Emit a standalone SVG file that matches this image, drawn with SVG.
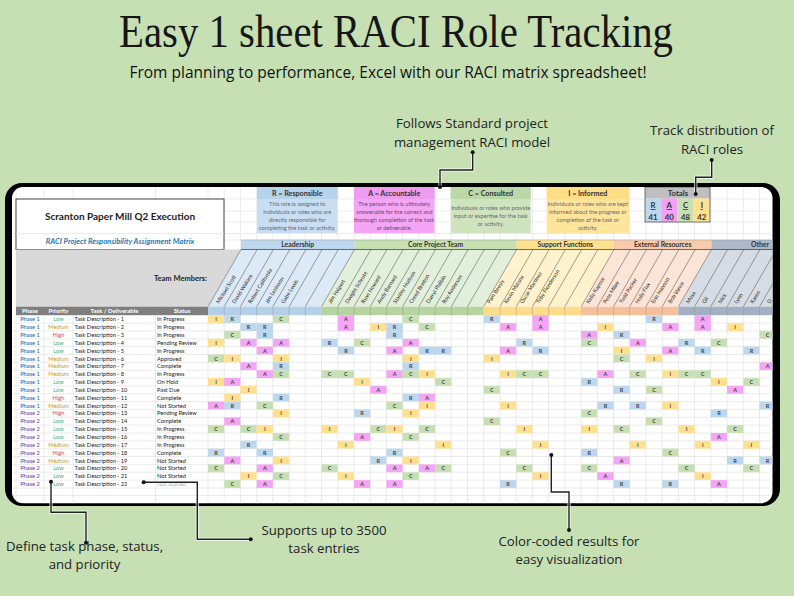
<svg xmlns="http://www.w3.org/2000/svg" width="794" height="596" viewBox="0 0 794 596">
<style>
.ttl{font-family:"Liberation Serif",serif;font-size:46px;fill:#161616;text-anchor:middle}
.sub{font-family:"Open Sans",sans-serif;font-size:15.5px;fill:#111;text-anchor:middle}
.note{font-family:"Open Sans",sans-serif;font-size:13.2px;fill:#222;text-anchor:middle}
.t{font-family:Lato,"Liberation Sans",sans-serif;font-size:5.7px;fill:#222}
.ph1{fill:#2e75b6;text-anchor:middle;font-weight:600}.ph2{fill:#7a4fb0;text-anchor:middle;font-weight:600}
.lo{fill:#3fae6b;text-anchor:middle}.me{fill:#c39a35;text-anchor:middle}.hi{fill:#e8403a;text-anchor:middle}
.hd{fill:#fff;font-weight:700;text-anchor:middle;font-size:6px}
.c{width:16.22px;height:7.85px}
.R{fill:#bdd7ee}.A{fill:#f4a6f4}.C{fill:#c6e0b4}.I{fill:#ffe08f}
.k{font-family:Lato,"Liberation Sans",sans-serif;font-size:5.4px;font-weight:700;fill:#444;text-anchor:middle}
.g{font-family:Lato,"Liberation Sans",sans-serif;font-size:6.8px;font-weight:700;fill:#333;text-anchor:middle}
.b{font-family:Lato,"Liberation Sans",sans-serif;font-size:5.7px;fill:#5f6b73;text-anchor:middle}
.rh{font-family:Lato,"Liberation Sans",sans-serif;font-size:7.2px;font-weight:700;fill:#333;text-anchor:middle}
.tt{font-family:Lato,"Liberation Sans",sans-serif;font-size:7.8px;font-weight:700;fill:#333;text-anchor:middle}
.n{font-family:Lato,"Liberation Sans",sans-serif;font-size:5.4px;fill:#222}
.halo{fill:none;stroke:#fff;stroke-opacity:.65;stroke-width:3.4}
.ln{fill:none;stroke:#222;stroke-width:1.4}
.dot{fill:#111;r:2px}
</style>
<defs><clipPath id="scr"><rect x="12" y="187" width="760.5" height="316.3" rx="11"/></clipPath></defs>
<rect width="794" height="596" fill="#c6e0b4"/>
<text class="ttl" x="396" y="47" textLength="554" lengthAdjust="spacingAndGlyphs">Easy 1 sheet RACI Role Tracking</text>
<text class="sub" x="388" y="78">From planning to performance, Excel with our RACI matrix spreadsheet!</text>
<g id="notes">
<text class="note" x="472" y="128">Follows Standard project</text>
<text class="note" x="472" y="147">management RACI model</text>
<text class="note" x="712" y="135">Track distribution of</text>
<text class="note" x="712" y="154">RACI roles</text>
<text class="note" x="84.5" y="551">Define task phase, status,</text>
<text class="note" x="84.5" y="569">and priority</text>
<text class="note" x="324" y="535">Supports up to 3500</text>
<text class="note" x="324" y="553">task entries</text>
<text class="note" x="569" y="546">Color-coded results for</text>
<text class="note" x="569" y="564">easy visualization</text>
</g>
<rect id="frame" x="5" y="183" width="775" height="323" rx="17" fill="#000"/>
<g id="sheet" clip-path="url(#scr)">
<rect x="12" y="187" width="761" height="317" fill="#fff"/>
<path id="grid" fill="none" stroke="#e3e3e3" stroke-width=".7" d="M16 187V504M44 187V504M73 187V504M155.5 187V504M208 187V504M224.2 187V504M240.4 187V504M256.7 187V504M272.9 187V504M289.1 187V504M305.3 187V504M321.5 187V504M337.8 187V504M354 187V504M370.2 187V504M386.4 187V504M402.6 187V504M418.9 187V504M435.1 187V504M451.3 187V504M467.5 187V504M483.7 187V504M500 187V504M516.2 187V504M532.4 187V504M548.6 187V504M564.8 187V504M581.1 187V504M597.3 187V504M613.5 187V504M629.7 187V504M645.9 187V504M662.2 187V504M678.4 187V504M694.6 187V504M710.8 187V504M727 187V504M743.3 187V504M759.5 187V504M12 199H773M12 211H773M12 222H773M12 233.5H773M12 240H773M12 323.1H773M12 330.9H773M12 338.8H773M12 346.6H773M12 354.5H773M12 362.3H773M12 370.2H773M12 378H773M12 385.9H773M12 393.7H773M12 401.6H773M12 409.4H773M12 417.3H773M12 425.1H773M12 433H773M12 440.8H773M12 448.7H773M12 456.5H773M12 464.4H773M12 472.2H773M12 480.1H773M12 488H773M12 495.5H773"/>

<g id="role-r"><rect x="257" y="187" width="80.5" height="46" fill="#c9def2"/><rect x="257" y="187" width="80.5" height="12" fill="#b6d3ec"/>
<text class="rh" x="297.2" y="196">R = Responsible</text>
<text class="b" x="297.2" y="206">This role is assigned to</text><text class="b" x="297.2" y="214">individuals or roles who are</text><text class="b" x="297.2" y="222">directly responsible for</text><text class="b" x="297.2" y="230">completing the task or activity.</text></g>
<g id="role-a"><rect x="354" y="187" width="80.5" height="46" fill="#f4a6f4"/><rect x="354" y="187" width="80.5" height="12" fill="#ee9cf0"/>
<text class="rh" x="394.2" y="196">A = Accountable</text>
<text class="b" x="394.2" y="206" style="fill:#6a4a6e">The person who is ultimately</text><text class="b" x="394.2" y="214" style="fill:#6a4a6e">answerable for the correct and</text><text class="b" x="394.2" y="222" style="fill:#6a4a6e">thorough completion of the task</text><text class="b" x="394.2" y="230" style="fill:#6a4a6e">or deliverable.</text></g>
<g id="role-c"><rect x="450.7" y="187" width="80" height="46" fill="#cfe3bf"/><rect x="450.7" y="187" width="80" height="12" fill="#bcd8a8"/>
<text class="rh" x="490.7" y="196">C = Consulted</text>
<text class="b" x="490.7" y="210">Individuals or roles who provide</text><text class="b" x="490.7" y="218">input or expertise for the task</text><text class="b" x="490.7" y="226">or activity.</text></g>
<g id="role-i"><rect x="546.7" y="187" width="82.3" height="46" fill="#ffe49c"/><rect x="546.7" y="187" width="82.3" height="12" fill="#ffdc86"/>
<text class="rh" x="587.8" y="196">I = Informed</text>
<text class="b" x="587.8" y="206">Individuals or roles who are kept</text><text class="b" x="587.8" y="214">informed about the progress or</text><text class="b" x="587.8" y="222">completion of the task or</text><text class="b" x="587.8" y="230">activity.</text></g>
<g id="totals"><rect x="645" y="187" width="65" height="11.5" fill="#bfbfbf"/>
<rect x="645" y="198.5" width="16.2" height="23.5" fill="#bdd7ee"/><rect x="661.2" y="198.5" width="16.2" height="23.5" fill="#f4a0f4"/><rect x="677.4" y="198.5" width="16.2" height="23.5" fill="#c6e0b4"/><rect x="693.6" y="198.5" width="16.4" height="23.5" fill="#ffe08f"/>
<rect x="645" y="187" width="65" height="35" fill="none" stroke="#555" stroke-width=".8"/>
<text class="tt" x="678" y="196.2">Totals</text>
<text class="tt" x="653.1" y="208" text-decoration="underline">R</text><text class="tt" x="669.3" y="208" text-decoration="underline">A</text><text class="tt" x="685.5" y="208" text-decoration="underline">C</text><text class="tt" x="701.8" y="208" text-decoration="underline">I</text>
<text class="tt" x="653.1" y="219.5">41</text><text class="tt" x="669.3" y="219.5">40</text><text class="tt" x="685.5" y="219.5">48</text><text class="tt" x="701.8" y="219.5">42</text></g>

<g id="title-box"><rect x="16" y="199" width="208" height="50.5" fill="#fff" stroke="#333" stroke-width=".9"/>
<path d="M16 233.5H224" stroke="#e3e3e3" stroke-width=".7"/>
<text x="120" y="220" font-family="Lato,'Liberation Sans',sans-serif" font-size="10" font-weight="700" fill="#1c1c1c" text-anchor="middle">Scranton Paper Mill Q2 Execution</text>
<text x="120" y="244" font-family="Lato,'Liberation Sans',sans-serif" font-size="7.6" font-weight="700" font-style="italic" fill="#2e75b6" text-anchor="middle">RACI Project Responsibility Assignment Matrix</text></g>

<g id="team-header">
<path d="M16 249.5H241L208 306.7H16Z" fill="#d9d9d9"/>
<text x="207" y="280.5" font-family="Lato,'Liberation Sans',sans-serif" font-size="7.5" font-weight="700" fill="#222" text-anchor="end">Team Members:</text>
<path d="M208 306.7L241 249.5H354.5L321.5 306.7Z" fill="#dce9f6"/>
<path d="M321.5 306.7L354.5 249.5H516.7L483.7 306.7Z" fill="#e2efda"/>
<path d="M483.7 306.7L516.7 249.5H614L581.1 306.7Z" fill="#fff2cc"/>
<path d="M581.1 306.7L614 249.5H711.4L678.4 306.7Z" fill="#fce4d6"/>
<path d="M678.4 306.7L711.4 249.5H790L790 306.7Z" fill="#d6dce4"/>
<rect x="241" y="240" width="113.5" height="9.5" fill="#bdd7ee"/><rect x="354.5" y="240" width="162.2" height="9.5" fill="#c6e0b4"/><rect x="516.7" y="240" width="97.3" height="9.5" fill="#ffe08f"/><rect x="614" y="240" width="97.4" height="9.5" fill="#f8cbad"/><rect x="711.4" y="240" width="62" height="9.5" fill="#adb9ca"/>
<path d="M241 240H773" fill="none" stroke="#999" stroke-width=".5"/>
<path d="M241 249.5H773" fill="none" stroke="#333" stroke-width=".7"/>
<path d="M208 306.7l33-57.2M224.2 306.7l33-57.2M240.4 306.7l33-57.2M256.7 306.7l33-57.2M272.9 306.7l33-57.2M289.1 306.7l33-57.2M305.3 306.7l33-57.2M321.5 306.7l33-57.2M337.8 306.7l33-57.2M354 306.7l33-57.2M370.2 306.7l33-57.2M386.4 306.7l33-57.2M402.6 306.7l33-57.2M418.9 306.7l33-57.2M435.1 306.7l33-57.2M451.3 306.7l33-57.2M467.5 306.7l33-57.2M483.7 306.7l33-57.2M500 306.7l33-57.2M516.2 306.7l33-57.2M532.4 306.7l33-57.2M548.6 306.7l33-57.2M564.8 306.7l33-57.2M581.1 306.7l33-57.2M597.3 306.7l33-57.2M613.5 306.7l33-57.2M629.7 306.7l33-57.2M645.9 306.7l33-57.2M662.2 306.7l33-57.2M678.4 306.7l33-57.2M694.6 306.7l33-57.2M710.8 306.7l33-57.2M727 306.7l33-57.2M743.3 306.7l33-57.2M759.5 306.7l33-57.2" fill="none" stroke="#555" stroke-width=".55"/>
<text class="g" x="297.7" y="247.4">Leadership</text><text class="g" x="435.6" y="247.4">Core Project Team</text><text class="g" x="565.3" y="247.4">Support Functions</text><text class="g" x="662.7" y="247.4">External Resources</text><text class="g" x="760" y="247.4">Other</text>
<text class="n" transform="translate(219 304) rotate(-58)">Michael Scott</text>
<text class="n" transform="translate(235 304) rotate(-58)">David Wallace</text>
<text class="n" transform="translate(251 304) rotate(-58)">Robert California</text>
<text class="n" transform="translate(268 304) rotate(-58)">Jim Levinson</text>
<text class="n" transform="translate(284 304) rotate(-58)">Gabe Lewis</text>
<text class="n" transform="translate(331 304) rotate(-58)">Jim Halpert</text>
<text class="n" transform="translate(348 304) rotate(-58)">Dwight Schrute</text>
<text class="n" transform="translate(364 304) rotate(-58)">Ryan Howard</text>
<text class="n" transform="translate(380 304) rotate(-58)">Andy Barnard</text>
<text class="n" transform="translate(396 304) rotate(-58)">Stanley Hudson</text>
<text class="n" transform="translate(412 304) rotate(-58)">Creed Bratton</text>
<text class="n" transform="translate(429 304) rotate(-58)">Darryl Philbin</text>
<text class="n" transform="translate(445 304) rotate(-58)">Roy Anderson</text>
<text class="n" transform="translate(490 304) rotate(-58)">Pam Beesly</text>
<text class="n" transform="translate(507 304) rotate(-58)">Kevin Malone</text>
<text class="n" transform="translate(523 304) rotate(-58)">Oscar Martinez</text>
<text class="n" transform="translate(539 304) rotate(-58)">Toby Flenderson</text>
<text class="n" transform="translate(589 304) rotate(-58)">Kelly Kapoor</text>
<text class="n" transform="translate(606 304) rotate(-58)">Pete Miller</text>
<text class="n" transform="translate(622 304) rotate(-58)">Todd Packer</text>
<text class="n" transform="translate(638 304) rotate(-58)">Holly Flax</text>
<text class="n" transform="translate(654 304) rotate(-58)">Erin Hannon</text>
<text class="n" transform="translate(671 304) rotate(-58)">Bob Vance</text>
<text class="n" transform="translate(689 304) rotate(-58)">Mose</text>
<text class="n" transform="translate(705 304) rotate(-58)">Gil</text>
<text class="n" transform="translate(721 304) rotate(-58)">Nick</text>
<text class="n" transform="translate(737 304) rotate(-58)">Lynn</text>
<text class="n" transform="translate(753 304) rotate(-58)">Karen</text>
<text class="n" transform="translate(770 304) rotate(-58)">D</text>
</g>

<g id="column-header">
<rect x="16" y="306.7" width="192" height="8.5" fill="#7f7f7f"/>
<rect x="208" y="306.7" width="113.5" height="8.5" fill="#b4cfe8"/><rect x="321.5" y="306.7" width="162.2" height="8.5" fill="#b7d3a0"/><rect x="483.7" y="306.7" width="97.4" height="8.5" fill="#ffdc8a"/><rect x="581.1" y="306.7" width="97.3" height="8.5" fill="#f5c09c"/><rect x="678.4" y="306.7" width="95" height="8.5" fill="#a3afc2"/>
<path d="M224.2 306.7v8.5M240.4 306.7v8.5M256.7 306.7v8.5M272.9 306.7v8.5M289.1 306.7v8.5M305.3 306.7v8.5M337.8 306.7v8.5M354 306.7v8.5M370.2 306.7v8.5M386.4 306.7v8.5M402.6 306.7v8.5M418.9 306.7v8.5M435.1 306.7v8.5M451.3 306.7v8.5M467.5 306.7v8.5M500 306.7v8.5M516.2 306.7v8.5M532.4 306.7v8.5M548.6 306.7v8.5M564.8 306.7v8.5M597.3 306.7v8.5M613.5 306.7v8.5M629.7 306.7v8.5M645.9 306.7v8.5M662.2 306.7v8.5M694.6 306.7v8.5M710.8 306.7v8.5M727 306.7v8.5M743.3 306.7v8.5M759.5 306.7v8.5" fill="none" stroke="#999" stroke-width=".5"/>
<text class="t hd" x="30" y="313.2">Phase</text><text class="t hd" x="58.5" y="313.2">Priority</text><text class="t hd" x="114.5" y="313.2">Task / Deliverable</text><text class="t hd" x="182" y="313.2">Status</text>
</g>

<g id="rows">
<g transform="translate(0 315.2)"><text class="t ph1" x="30" y="6">Phase 1</text><text class="t lo" x="58.5" y="6">Low</text><text class="t" x="74.5" y="6">Task Description - 1</text><text class="t" x="157" y="6">In Progress</text>
<rect class="c I" x="208"/><text class="k" x="216.1" y="6">I</text><rect class="c R" x="224.2"/><text class="k" x="232.3" y="6">R</text><rect class="c C" x="272.9"/><text class="k" x="281" y="6">C</text><rect class="c A" x="337.8"/><text class="k" x="345.9" y="6">A</text><rect class="c C" x="402.6"/><text class="k" x="410.7" y="6">C</text><rect class="c R" x="483.7"/><text class="k" x="491.8" y="6">R</text><rect class="c A" x="532.4"/><text class="k" x="540.5" y="6">A</text><rect class="c R" x="645.9"/><text class="k" x="654" y="6">R</text><rect class="c A" x="694.6"/><text class="k" x="702.7" y="6">A</text></g>
<g transform="translate(0 323.1)"><text class="t ph1" x="30" y="6">Phase 1</text><text class="t me" x="58.5" y="6">Medium</text><text class="t" x="74.5" y="6">Task Description - 2</text><text class="t" x="157" y="6">In Progress</text>
<rect class="c R" x="240.4"/><text class="k" x="248.5" y="6">R</text><rect class="c R" x="256.7"/><text class="k" x="264.8" y="6">R</text><rect class="c A" x="337.8"/><text class="k" x="345.9" y="6">A</text><rect class="c I" x="370.2"/><text class="k" x="378.3" y="6">I</text><rect class="c R" x="386.4"/><text class="k" x="394.5" y="6">R</text><rect class="c C" x="418.9"/><text class="k" x="427" y="6">C</text><rect class="c A" x="500"/><text class="k" x="508.1" y="6">A</text><rect class="c A" x="532.4"/><text class="k" x="540.5" y="6">A</text><rect class="c I" x="597.3"/><text class="k" x="605.4" y="6">I</text><rect class="c A" x="662.2"/><text class="k" x="670.3" y="6">A</text><rect class="c A" x="694.6"/><text class="k" x="702.7" y="6">A</text><rect class="c I" x="727"/><text class="k" x="735.1" y="6">I</text></g>
<g transform="translate(0 330.9)"><text class="t ph1" x="30" y="6">Phase 1</text><text class="t hi" x="58.5" y="6">High</text><text class="t" x="74.5" y="6">Task Description - 3</text><text class="t" x="157" y="6">In Progress</text>
<rect class="c C" x="224.2"/><text class="k" x="232.3" y="6">C</text><rect class="c R" x="256.7"/><text class="k" x="264.8" y="6">R</text><rect class="c R" x="386.4"/><text class="k" x="394.5" y="6">R</text><rect class="c A" x="581.1"/><text class="k" x="589.2" y="6">A</text><rect class="c R" x="613.5"/><text class="k" x="621.6" y="6">R</text><rect class="c C" x="759.5"/><text class="k" x="767.6" y="6">C</text></g>
<g transform="translate(0 338.8)"><text class="t ph1" x="30" y="6">Phase 1</text><text class="t lo" x="58.5" y="6">Low</text><text class="t" x="74.5" y="6">Task Description - 4</text><text class="t" x="157" y="6">Pending Review</text>
<rect class="c I" x="208"/><text class="k" x="216.1" y="6">I</text><rect class="c A" x="240.4"/><text class="k" x="248.5" y="6">A</text><rect class="c A" x="272.9"/><text class="k" x="281" y="6">A</text><rect class="c R" x="321.5"/><text class="k" x="329.6" y="6">R</text><rect class="c C" x="354"/><text class="k" x="362.1" y="6">C</text><rect class="c A" x="402.6"/><text class="k" x="410.7" y="6">A</text><rect class="c R" x="516.2"/><text class="k" x="524.3" y="6">R</text><rect class="c C" x="581.1"/><text class="k" x="589.2" y="6">C</text><rect class="c A" x="629.7"/><text class="k" x="637.8" y="6">A</text><rect class="c R" x="678.4"/><text class="k" x="686.5" y="6">R</text><rect class="c C" x="710.8"/><text class="k" x="718.9" y="6">C</text></g>
<g transform="translate(0 346.6)"><text class="t ph1" x="30" y="6">Phase 1</text><text class="t lo" x="58.5" y="6">Low</text><text class="t" x="74.5" y="6">Task Description - 5</text><text class="t" x="157" y="6">In Progress</text>
<rect class="c A" x="256.7"/><text class="k" x="264.8" y="6">A</text><rect class="c R" x="337.8"/><text class="k" x="345.9" y="6">R</text><rect class="c A" x="386.4"/><text class="k" x="394.5" y="6">A</text><rect class="c R" x="418.9"/><text class="k" x="427" y="6">R</text><rect class="c R" x="435.1"/><text class="k" x="443.2" y="6">R</text><rect class="c A" x="500"/><text class="k" x="508.1" y="6">A</text><rect class="c R" x="532.4"/><text class="k" x="540.5" y="6">R</text><rect class="c I" x="613.5"/><text class="k" x="621.6" y="6">I</text><rect class="c A" x="662.2"/><text class="k" x="670.3" y="6">A</text><rect class="c R" x="694.6"/><text class="k" x="702.7" y="6">R</text><rect class="c R" x="743.3"/><text class="k" x="751.4" y="6">R</text></g>
<g transform="translate(0 354.5)"><text class="t ph1" x="30" y="6">Phase 1</text><text class="t me" x="58.5" y="6">Medium</text><text class="t" x="74.5" y="6">Task Description - 6</text><text class="t" x="157" y="6">Approved</text>
<rect class="c C" x="208"/><text class="k" x="216.1" y="6">C</text><rect class="c I" x="224.2"/><text class="k" x="232.3" y="6">I</text><rect class="c I" x="272.9"/><text class="k" x="281" y="6">I</text><rect class="c I" x="402.6"/><text class="k" x="410.7" y="6">I</text><rect class="c I" x="483.7"/><text class="k" x="491.8" y="6">I</text><rect class="c C" x="613.5"/><text class="k" x="621.6" y="6">C</text><rect class="c I" x="645.9"/><text class="k" x="654" y="6">I</text></g>
<g transform="translate(0 362.3)"><text class="t ph1" x="30" y="6">Phase 1</text><text class="t me" x="58.5" y="6">Medium</text><text class="t" x="74.5" y="6">Task Description - 7</text><text class="t" x="157" y="6">Complete</text>
<rect class="c A" x="240.4"/><text class="k" x="248.5" y="6">A</text><rect class="c R" x="272.9"/><text class="k" x="281" y="6">R</text><rect class="c R" x="402.6"/><text class="k" x="410.7" y="6">R</text><rect class="c A" x="759.5"/><text class="k" x="767.6" y="6">A</text></g>
<g transform="translate(0 370.2)"><text class="t ph1" x="30" y="6">Phase 1</text><text class="t me" x="58.5" y="6">Medium</text><text class="t" x="74.5" y="6">Task Description - 8</text><text class="t" x="157" y="6">In Progress</text>
<rect class="c A" x="256.7"/><text class="k" x="264.8" y="6">A</text><rect class="c C" x="272.9"/><text class="k" x="281" y="6">C</text><rect class="c C" x="321.5"/><text class="k" x="329.6" y="6">C</text><rect class="c C" x="337.8"/><text class="k" x="345.9" y="6">C</text><rect class="c A" x="386.4"/><text class="k" x="394.5" y="6">A</text><rect class="c C" x="402.6"/><text class="k" x="410.7" y="6">C</text><rect class="c I" x="418.9"/><text class="k" x="427" y="6">I</text><rect class="c I" x="500"/><text class="k" x="508.1" y="6">I</text><rect class="c C" x="516.2"/><text class="k" x="524.3" y="6">C</text><rect class="c C" x="532.4"/><text class="k" x="540.5" y="6">C</text><rect class="c A" x="597.3"/><text class="k" x="605.4" y="6">A</text><rect class="c C" x="629.7"/><text class="k" x="637.8" y="6">C</text><rect class="c I" x="662.2"/><text class="k" x="670.3" y="6">I</text><rect class="c C" x="678.4"/><text class="k" x="686.5" y="6">C</text><rect class="c C" x="694.6"/><text class="k" x="702.7" y="6">C</text></g>
<g transform="translate(0 378)"><text class="t ph1" x="30" y="6">Phase 1</text><text class="t lo" x="58.5" y="6">Low</text><text class="t" x="74.5" y="6">Task Description - 9</text><text class="t" x="157" y="6">On Hold</text>
<rect class="c I" x="208"/><text class="k" x="216.1" y="6">I</text><rect class="c A" x="224.2"/><text class="k" x="232.3" y="6">A</text><rect class="c I" x="354"/><text class="k" x="362.1" y="6">I</text><rect class="c C" x="435.1"/><text class="k" x="443.2" y="6">C</text><rect class="c R" x="581.1"/><text class="k" x="589.2" y="6">R</text><rect class="c I" x="710.8"/><text class="k" x="718.9" y="6">I</text><rect class="c C" x="743.3"/><text class="k" x="751.4" y="6">C</text></g>
<g transform="translate(0 385.9)"><text class="t ph1" x="30" y="6">Phase 1</text><text class="t lo" x="58.5" y="6">Low</text><text class="t" x="74.5" y="6">Task Description - 10</text><text class="t" x="157" y="6">Past Due</text>
<rect class="c I" x="240.4"/><text class="k" x="248.5" y="6">I</text><rect class="c A" x="370.2"/><text class="k" x="378.3" y="6">A</text><rect class="c C" x="483.7"/><text class="k" x="491.8" y="6">C</text><rect class="c R" x="613.5"/><text class="k" x="621.6" y="6">R</text><rect class="c C" x="645.9"/><text class="k" x="654" y="6">C</text><rect class="c A" x="727"/><text class="k" x="735.1" y="6">A</text></g>
<g transform="translate(0 393.7)"><text class="t ph1" x="30" y="6">Phase 1</text><text class="t hi" x="58.5" y="6">High</text><text class="t" x="74.5" y="6">Task Description - 11</text><text class="t" x="157" y="6">Complete</text>
<rect class="c I" x="224.2"/><text class="k" x="232.3" y="6">I</text><rect class="c R" x="272.9"/><text class="k" x="281" y="6">R</text><rect class="c R" x="402.6"/><text class="k" x="410.7" y="6">R</text><rect class="c A" x="418.9"/><text class="k" x="427" y="6">A</text></g>
<g transform="translate(0 401.6)"><text class="t ph1" x="30" y="6">Phase 1</text><text class="t me" x="58.5" y="6">Medium</text><text class="t" x="74.5" y="6">Task Description - 12</text><text class="t" x="157" y="6">Not Started</text>
<rect class="c A" x="208"/><text class="k" x="216.1" y="6">A</text><rect class="c R" x="224.2"/><text class="k" x="232.3" y="6">R</text><rect class="c C" x="256.7"/><text class="k" x="264.8" y="6">C</text><rect class="c C" x="386.4"/><text class="k" x="394.5" y="6">C</text><rect class="c I" x="418.9"/><text class="k" x="427" y="6">I</text><rect class="c I" x="500"/><text class="k" x="508.1" y="6">I</text><rect class="c R" x="597.3"/><text class="k" x="605.4" y="6">R</text><rect class="c R" x="629.7"/><text class="k" x="637.8" y="6">R</text><rect class="c I" x="662.2"/><text class="k" x="670.3" y="6">I</text><rect class="c R" x="759.5"/><text class="k" x="767.6" y="6">R</text></g>
<g transform="translate(0 409.4)"><text class="t ph2" x="30" y="6">Phase 2</text><text class="t hi" x="58.5" y="6">High</text><text class="t" x="74.5" y="6">Task Description - 13</text><text class="t" x="157" y="6">Pending Review</text>
<rect class="c I" x="272.9"/><text class="k" x="281" y="6">I</text><rect class="c R" x="354"/><text class="k" x="362.1" y="6">R</text><rect class="c I" x="402.6"/><text class="k" x="410.7" y="6">I</text><rect class="c C" x="581.1"/><text class="k" x="589.2" y="6">C</text><rect class="c R" x="710.8"/><text class="k" x="718.9" y="6">R</text></g>
<g transform="translate(0 417.3)"><text class="t ph2" x="30" y="6">Phase 2</text><text class="t lo" x="58.5" y="6">Low</text><text class="t" x="74.5" y="6">Task Description - 14</text><text class="t" x="157" y="6">Complete</text>
<rect class="c A" x="224.2"/><text class="k" x="232.3" y="6">A</text><rect class="c C" x="483.7"/><text class="k" x="491.8" y="6">C</text><rect class="c C" x="645.9"/><text class="k" x="654" y="6">C</text></g>
<g transform="translate(0 425.1)"><text class="t ph2" x="30" y="6">Phase 2</text><text class="t lo" x="58.5" y="6">Low</text><text class="t" x="74.5" y="6">Task Description - 15</text><text class="t" x="157" y="6">In Progress</text>
<rect class="c C" x="208"/><text class="k" x="216.1" y="6">C</text><rect class="c C" x="240.4"/><text class="k" x="248.5" y="6">C</text><rect class="c I" x="256.7"/><text class="k" x="264.8" y="6">I</text><rect class="c I" x="321.5"/><text class="k" x="329.6" y="6">I</text><rect class="c C" x="370.2"/><text class="k" x="378.3" y="6">C</text><rect class="c I" x="386.4"/><text class="k" x="394.5" y="6">I</text><rect class="c C" x="418.9"/><text class="k" x="427" y="6">C</text><rect class="c I" x="516.2"/><text class="k" x="524.3" y="6">I</text><rect class="c I" x="581.1"/><text class="k" x="589.2" y="6">I</text><rect class="c C" x="613.5"/><text class="k" x="621.6" y="6">C</text><rect class="c I" x="678.4"/><text class="k" x="686.5" y="6">I</text><rect class="c C" x="727"/><text class="k" x="735.1" y="6">C</text></g>
<g transform="translate(0 433)"><text class="t ph2" x="30" y="6">Phase 2</text><text class="t lo" x="58.5" y="6">Low</text><text class="t" x="74.5" y="6">Task Description - 16</text><text class="t" x="157" y="6">In Progress</text>
<rect class="c C" x="272.9"/><text class="k" x="281" y="6">C</text><rect class="c A" x="354"/><text class="k" x="362.1" y="6">A</text><rect class="c C" x="402.6"/><text class="k" x="410.7" y="6">C</text><rect class="c A" x="710.8"/><text class="k" x="718.9" y="6">A</text></g>
<g transform="translate(0 440.8)"><text class="t ph2" x="30" y="6">Phase 2</text><text class="t me" x="58.5" y="6">Medium</text><text class="t" x="74.5" y="6">Task Description - 17</text><text class="t" x="157" y="6">In Progress</text>
<rect class="c R" x="240.4"/><text class="k" x="248.5" y="6">R</text><rect class="c I" x="337.8"/><text class="k" x="345.9" y="6">I</text><rect class="c I" x="435.1"/><text class="k" x="443.2" y="6">I</text><rect class="c I" x="532.4"/><text class="k" x="540.5" y="6">I</text><rect class="c I" x="629.7"/><text class="k" x="637.8" y="6">I</text><rect class="c I" x="694.6"/><text class="k" x="702.7" y="6">I</text><rect class="c I" x="743.3"/><text class="k" x="751.4" y="6">I</text></g>
<g transform="translate(0 448.7)"><text class="t ph2" x="30" y="6">Phase 2</text><text class="t hi" x="58.5" y="6">High</text><text class="t" x="74.5" y="6">Task Description - 18</text><text class="t" x="157" y="6">Complete</text>
<rect class="c R" x="208"/><text class="k" x="216.1" y="6">R</text><rect class="c R" x="256.7"/><text class="k" x="264.8" y="6">R</text><rect class="c R" x="386.4"/><text class="k" x="394.5" y="6">R</text><rect class="c C" x="500"/><text class="k" x="508.1" y="6">C</text><rect class="c R" x="581.1"/><text class="k" x="589.2" y="6">R</text><rect class="c C" x="662.2"/><text class="k" x="670.3" y="6">C</text></g>
<g transform="translate(0 456.5)"><text class="t ph2" x="30" y="6">Phase 2</text><text class="t me" x="58.5" y="6">Medium</text><text class="t" x="74.5" y="6">Task Description - 19</text><text class="t" x="157" y="6">Not Started</text>
<rect class="c A" x="224.2"/><text class="k" x="232.3" y="6">A</text><rect class="c I" x="272.9"/><text class="k" x="281" y="6">I</text><rect class="c R" x="370.2"/><text class="k" x="378.3" y="6">R</text><rect class="c I" x="402.6"/><text class="k" x="410.7" y="6">I</text><rect class="c A" x="613.5"/><text class="k" x="621.6" y="6">A</text><rect class="c R" x="727"/><text class="k" x="735.1" y="6">R</text><rect class="c R" x="759.5"/><text class="k" x="767.6" y="6">R</text></g>
<g transform="translate(0 464.4)"><text class="t ph2" x="30" y="6">Phase 2</text><text class="t lo" x="58.5" y="6">Low</text><text class="t" x="74.5" y="6">Task Description - 20</text><text class="t" x="157" y="6">Not Started</text>
<rect class="c C" x="208"/><text class="k" x="216.1" y="6">C</text><rect class="c A" x="256.7"/><text class="k" x="264.8" y="6">A</text><rect class="c C" x="321.5"/><text class="k" x="329.6" y="6">C</text><rect class="c A" x="386.4"/><text class="k" x="394.5" y="6">A</text><rect class="c A" x="418.9"/><text class="k" x="427" y="6">A</text><rect class="c C" x="435.1"/><text class="k" x="443.2" y="6">C</text><rect class="c C" x="516.2"/><text class="k" x="524.3" y="6">C</text><rect class="c C" x="581.1"/><text class="k" x="589.2" y="6">C</text><rect class="c C" x="678.4"/><text class="k" x="686.5" y="6">C</text><rect class="c C" x="743.3"/><text class="k" x="751.4" y="6">C</text></g>
<g transform="translate(0 472.2)"><text class="t ph2" x="30" y="6">Phase 2</text><text class="t lo" x="58.5" y="6">Low</text><text class="t" x="74.5" y="6">Task Description - 21</text><text class="t" x="157" y="6">Not Started</text>
<rect class="c I" x="240.4"/><text class="k" x="248.5" y="6">I</text><rect class="c C" x="272.9"/><text class="k" x="281" y="6">C</text><rect class="c I" x="337.8"/><text class="k" x="345.9" y="6">I</text><rect class="c C" x="402.6"/><text class="k" x="410.7" y="6">C</text><rect class="c I" x="532.4"/><text class="k" x="540.5" y="6">I</text><rect class="c A" x="597.3"/><text class="k" x="605.4" y="6">A</text><rect class="c I" x="694.6"/><text class="k" x="702.7" y="6">I</text></g>
<g transform="translate(0 480.1)"><text class="t ph2" x="30" y="6">Phase 2</text><text class="t lo" x="58.5" y="6">Low</text><text class="t" x="74.5" y="6">Task Description - 22</text><text class="t" x="157" y="6" style="fill:#aaa">Not Started</text>
<rect class="c C" x="224.2"/><text class="k" x="232.3" y="6">C</text><rect class="c A" x="256.7"/><text class="k" x="264.8" y="6">A</text><rect class="c A" x="354"/><text class="k" x="362.1" y="6">A</text><rect class="c A" x="386.4"/><text class="k" x="394.5" y="6">A</text><rect class="c R" x="500"/><text class="k" x="508.1" y="6">R</text><rect class="c R" x="613.5"/><text class="k" x="621.6" y="6">R</text><rect class="c R" x="662.2"/><text class="k" x="670.3" y="6">R</text><rect class="c A" x="710.8"/><text class="k" x="718.9" y="6">A</text></g>
</g>
</g>
<g id="connectors">
<path class="halo" d="M472.7 152.3V170H440V187"/><path class="ln" d="M472.7 152.3V170H440V187"/><circle class="dot" cx="472.7" cy="152.3"/><circle class="dot" cx="440" cy="187"/>
<path class="halo" d="M711.7 160V177.3H695.7V194"/><path class="ln" d="M711.7 160V177.3H695.7V194"/><circle class="dot" cx="711.7" cy="160"/><circle class="dot" cx="695.7" cy="194"/>
<path class="halo" d="M51 481.7V512.3H86V542.7"/><path class="ln" d="M51 481.7V512.3H86V542.7"/><circle class="dot" cx="51" cy="481.7"/><circle class="dot" cx="86" cy="542.7"/>
<path class="halo" d="M143.7 482.3H197.3V539.3H250.7"/><path class="ln" d="M143.7 482.3H197.3V539.3H250.7"/><circle class="dot" cx="143.7" cy="482.3"/><circle class="dot" cx="250.7" cy="539.3"/>
<path class="halo" d="M551.3 455V492H569V530"/><path class="ln" d="M551.3 455V492H569V530"/><circle class="dot" cx="551.3" cy="455"/><circle class="dot" cx="569" cy="530"/>
</g>
</svg>
